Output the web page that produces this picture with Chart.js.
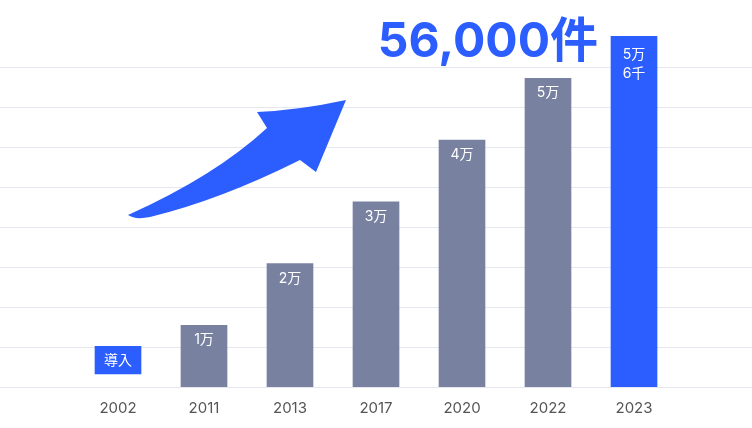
<!DOCTYPE html>
<html>
<head>
<meta charset="utf-8">
<script src="https://cdn.jsdelivr.net/npm/chart.js@4.4.1/dist/chart.umd.min.js"></script>
<style>
	html, body { margin: 0; padding: 0; background: #fff; }
	#wrap { width: 752px; height: 428px; position: relative; }
</style>
</head>
<body>
<div id="wrap"><canvas id="growthChart"></canvas></div>
<script>
// Data.
const years = [ '2002', '2011', '2013', '2017', '2020', '2022', '2023' ];
// 2002 is only a marker box ("導入"), drawn as a floating bar.
const counts = [ [ 2100, 6600 ], 10000, 20000, 30000, 40000, 50000, 56800 ];
const barLabels = [ [ '導入' ], [ '1万' ], [ '2万' ], [ '3万' ], [ '4万' ], [ '5万' ], [ '5万', '6千' ] ];
const highlight = [ true, false, false, false, false, false, true ];
const headline = '56,000件';
const yMax = 58300;
const gridSteps = 9;

const BLUE = '#2c5dff';
const GRAY = '#7882a0';
const FONT = 'Inter, "Noto Sans CJK JP", sans-serif';

// Full-width horizontal grid lines (the top one is not drawn).
const fullGrid = {
	id: 'fullGrid',
	beforeDatasetsDraw( chart ) {
		const { ctx, scales: { y } } = chart;
		ctx.save();
		ctx.strokeStyle = '#e6e6ee';
		ctx.lineWidth = 1;
		y.ticks.forEach( ( t, i ) => {
			if ( i === y.ticks.length - 1 ) return;
			const py = Math.round( y.getPixelForValue( t.value ) ) + 0.5;
			ctx.beginPath();
			ctx.moveTo( 0, py );
			ctx.lineTo( chart.width, py );
			ctx.stroke();
		} );
		ctx.restore();
	}
};

// White text inside the bars, the big headline and the swoosh arrow.
const decorations = {
	id: 'decorations',
	afterDatasetsDraw( chart ) {
		const { ctx } = chart;
		const bars = chart.getDatasetMeta( 0 ).data;
		ctx.save();
		ctx.fillStyle = '#fff';
		ctx.font = '14px ' + FONT;
		ctx.textAlign = 'center';
		ctx.textBaseline = 'middle';
		bars.forEach( ( bar, i ) => {
			const lines = barLabels[ i ];
			const first = bar.y + ( lines.length > 1 ? 19 : 15 );
			lines.forEach( ( txt, j ) => ctx.fillText( txt, bar.x, first + j * 19 ) );
		} );

		// headline next to the last bar
		const last = bars[ bars.length - 1 ];
		ctx.fillStyle = BLUE;
		ctx.font = 'bold 48px ' + FONT;
		ctx.textAlign = 'right';
		ctx.textBaseline = 'alphabetic';
		ctx.fillText( headline, last.x - last.width / 2 - 13, 57 );

		// arrow
		ctx.beginPath();
		ctx.moveTo( 128, 215 );
		ctx.quadraticCurveTo( 215, 176, 267, 128 );
		ctx.lineTo( 257, 112 );
		ctx.quadraticCurveTo( 300, 110, 346, 100 );
		ctx.lineTo( 316, 172 );
		ctx.lineTo( 300, 160 );
		ctx.quadraticCurveTo( 220, 200, 150, 217 );
		ctx.quadraticCurveTo( 135, 220, 128, 215 );
		ctx.closePath();
		ctx.fill();
		ctx.restore();
	}
};

new Chart( document.getElementById( 'growthChart' ), {
	type: 'bar',
	data: {
		labels: years,
		datasets: [
			{
				data: counts,
				backgroundColor: highlight.map( ( h ) => ( h ? BLUE : GRAY ) ),
				borderWidth: 0,
				barThickness: 46
			}
		]
	},
	options: {
		responsive: true,
		maintainAspectRatio: false,
		animation: false,
		layout: { padding: { top: 27, bottom: -1, left: 75, right: 75 } },
		plugins: {
			legend: { display: false },
			tooltip: { enabled: false }
		},
		scales: {
			x: {
				grid: { display: false, drawTicks: false },
				border: { display: false },
				ticks: {
					padding: 12,
					color: '#555',
					font: { size: 15, family: FONT }
				}
			},
			y: {
				display: false,
				min: 0,
				max: yMax,
				afterBuildTicks( scale ) {
					const step = yMax / gridSteps;
					scale.ticks = [];
					for ( let i = 0; i <= gridSteps; i++ ) scale.ticks.push( { value: i * step } );
				}
			}
		}
	},
	plugins: [ fullGrid, decorations ]
} );
</script>
</body>
</html>
